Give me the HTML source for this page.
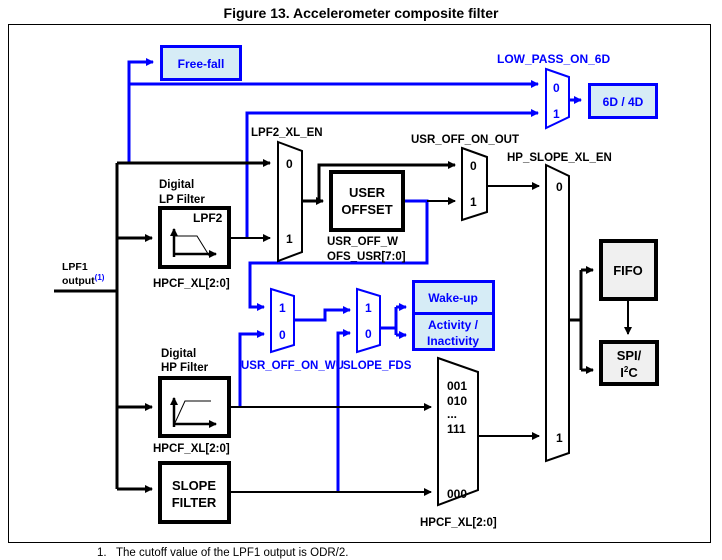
<!DOCTYPE html>
<html><head><meta charset="utf-8"><style>
html,body{margin:0;padding:0;background:#fff;}
svg{display:block;font-family:"Liberation Sans",Arial,sans-serif;}
</style></head><body>
<svg width="722" height="560" viewBox="0 0 722 560" xmlns="http://www.w3.org/2000/svg">
<defs>
<marker id="ab" markerWidth="8" markerHeight="8" refX="7" refY="4" orient="auto" markerUnits="userSpaceOnUse"><path d="M0,0 L8,4 L0,8z" fill="#000"/></marker>
<marker id="au" markerWidth="8" markerHeight="8" refX="7" refY="4" orient="auto" markerUnits="userSpaceOnUse"><path d="M0,0 L8,4 L0,8z" fill="#00f"/></marker>
</defs>
<text x="361" y="18" text-anchor="middle" font-size="14" font-weight="bold">Figure 13. Accelerometer composite filter</text>
<rect x="8.5" y="24.5" width="702" height="518" fill="none" stroke="#000" stroke-width="1"/>

<g stroke="#00f" stroke-width="3" fill="none">
<polyline points="129,163 129,62 153,62" marker-end="url(#au)"/>
<polyline points="129,84 538,84" marker-end="url(#au)"/>
<polyline points="247,238 247,113 538,113" marker-end="url(#au)"/>
<polyline points="569,100 581,100" marker-end="url(#au)"/>
<polyline points="404,201 427,201 427,263 250,263 250,307 264,307" marker-end="url(#au)"/>
<polyline points="240,407 240,334 264,334" marker-end="url(#au)"/>
<polyline points="294,320 325,320 325,310 350,310" marker-end="url(#au)"/>
<polyline points="338,492 338,333 350,333" marker-end="url(#au)"/>
<polyline points="380,328 396,328"/>
<polyline points="396,307 396,335"/>
<polyline points="396,307 406,307" marker-end="url(#au)"/>
<polyline points="396,335 406,335" marker-end="url(#au)"/>
</g>
<rect x="161.5" y="46.5" width="79" height="33" fill="#d6ecf6" stroke="#00f" stroke-width="3"/>
<text x="201" y="68" text-anchor="middle" font-size="12" font-weight="bold" fill="#00f">Free-fall</text>
<rect x="589.5" y="84.5" width="67" height="33" fill="#d6ecf6" stroke="#00f" stroke-width="3"/>
<text x="623" y="106" text-anchor="middle" font-size="12" font-weight="bold" fill="#00f">6D / 4D</text>
<rect x="413.5" y="281.5" width="80" height="32" fill="#d6ecf6" stroke="#00f" stroke-width="3"/>
<text x="453" y="302" text-anchor="middle" font-size="12" font-weight="bold" fill="#00f">Wake-up</text>
<rect x="413.5" y="313.5" width="80" height="36" fill="#d6ecf6" stroke="#00f" stroke-width="3"/>
<text x="453" y="329" text-anchor="middle" font-size="12" font-weight="bold" fill="#00f">Activity /</text>
<text x="453" y="345" text-anchor="middle" font-size="12" font-weight="bold" fill="#00f">Inactivity</text>
<g fill="#fff" stroke="#00f" stroke-width="2">
<polygon points="546,69 569,77 569,117 546,128"/>
<polygon points="271,289 294,296 294,345 271,352"/>
<polygon points="357,289 380,296 380,345 357,352"/>
</g>
<g font-size="12" font-weight="bold" fill="#00f">
<text x="553" y="92">0</text><text x="553" y="118">1</text>
<text x="279" y="312">1</text><text x="279" y="339">0</text>
<text x="365" y="312">1</text><text x="365" y="338">0</text>
<text x="497" y="63">LOW_PASS_ON_6D</text>
<text x="241" y="369" font-size="11.5">USR_OFF_ON_WU</text>
<text x="343" y="369" font-size="11.5">SLOPE_FDS</text>
</g>

<g stroke="#000" stroke-width="3" fill="none">
<polyline points="54,291 117,291"/>
<polyline points="117,163 117,489"/>
<polyline points="117,163 270,163" marker-end="url(#ab)"/>
<polyline points="117,238 152,238" marker-end="url(#ab)"/>
<polyline points="117,407 152,407" marker-end="url(#ab)"/>
<polyline points="117,489 152,489" marker-end="url(#ab)"/>
<polyline points="319,201 319,165 455,165" marker-end="url(#ab)"/>
<polyline points="302,201 323,201" marker-end="url(#ab)"/>
<polyline points="569,320 581,320"/>
<polyline points="581,270 581,370"/>
<polyline points="581,270 593,270" marker-end="url(#ab)"/>
<polyline points="581,370 593,370" marker-end="url(#ab)"/>
</g>
<g stroke="#000" stroke-width="2" fill="none">
<polyline points="230,238 270,238" marker-end="url(#ab)"/>
<polyline points="427,201 455,201" marker-end="url(#ab)"/>
<polyline points="487,186 539,186" marker-end="url(#ab)"/>
<polyline points="229,407 431,407" marker-end="url(#ab)"/>
<polyline points="229,492 431,492" marker-end="url(#ab)"/>
<polyline points="478,436 539,436" marker-end="url(#ab)"/>
<polyline points="628,300 628,334" marker-end="url(#ab)"/>
</g>

<g fill="#fff" stroke="#000" stroke-width="2">
<polygon points="278,142 302,151 302,252 278,261"/>
<polygon points="462,148 487,157 487,212 462,220"/>
<polygon points="546,165 569,176 569,453 546,461"/>
<polygon points="438,358 478,372 478,490 438,505"/>
</g>
<g font-size="12" font-weight="bold">
<text x="286" y="168">0</text><text x="286" y="243">1</text>
<text x="470" y="170">0</text><text x="470" y="206">1</text>
<text x="556" y="191">0</text><text x="556" y="442">1</text>
<text x="447" y="390">001</text><text x="447" y="405">010</text><text x="447" y="418">...</text><text x="447" y="433">111</text>
<text x="447" y="498">000</text>
</g>

<g fill="#fff" stroke="#000" stroke-width="4">
<rect x="160" y="208" width="69" height="59"/>
<rect x="160" y="378" width="69" height="58"/>
<rect x="160" y="463" width="69" height="59"/>
<rect x="331" y="172" width="72" height="58"/>
</g>
<g fill="#f0f0f0" stroke="#000" stroke-width="4">
<rect x="601" y="241" width="55" height="58"/>
<rect x="601" y="342" width="56" height="42"/>
</g>
<g stroke="#000" stroke-width="2.5" fill="none">
<line x1="174" y1="254" x2="216" y2="254" marker-end="url(#ab)"/>
<line x1="174" y1="257" x2="174" y2="229" marker-end="url(#ab)"/>
<line x1="174" y1="424" x2="216" y2="424" marker-end="url(#ab)"/>
<line x1="174" y1="427" x2="174" y2="398" marker-end="url(#ab)"/>
</g>
<g stroke="#000" stroke-width="1" fill="none">
<polyline points="174,236 197,236 210,257"/>
<polyline points="174,425 185,401 211,401"/>
</g>
<g font-weight="bold">
<text x="193" y="222" font-size="12">LPF2</text>
<text x="194" y="490" font-size="13" text-anchor="middle">SLOPE</text>
<text x="194" y="507" font-size="13" text-anchor="middle">FILTER</text>
<text x="367" y="197" font-size="13" text-anchor="middle">USER</text>
<text x="367" y="214" font-size="13" text-anchor="middle">OFFSET</text>
<text x="628" y="275" font-size="13" text-anchor="middle">FIFO</text>
<text x="629" y="360" font-size="13" text-anchor="middle">SPI/</text>
<text x="629" y="377" font-size="13" text-anchor="middle">I<tspan font-size="8" dy="-5">2</tspan><tspan dy="5">C</tspan></text>
<g font-size="11.5">
<text x="159" y="188">Digital</text><text x="159" y="203">LP Filter</text>
<text x="161" y="357">Digital</text><text x="161" y="371">HP Filter</text>
<text x="153" y="287">HPCF_XL[2:0]</text>
<text x="153" y="452">HPCF_XL[2:0]</text>
<text x="420" y="526">HPCF_XL[2:0]</text>
<text x="251" y="136">LPF2_XL_EN</text>
<text x="411" y="143">USR_OFF_ON_OUT</text>
<text x="507" y="161">HP_SLOPE_XL_EN</text>
<text x="327" y="245">USR_OFF_W</text>
<text x="327" y="260">OFS_USR[7:0]</text>
<text x="62" y="270" font-size="10.5">LPF1</text>
<text x="62" y="284" font-size="10.5">output<tspan fill="#00f" font-size="8" dy="-4">(1)</tspan></text>
</g>
</g>
<text x="97" y="556" font-size="11.5">1.</text>
<text x="116" y="556" font-size="11.5">The cutoff value of the LPF1 output is ODR/2.</text>
</svg>
</body></html>
